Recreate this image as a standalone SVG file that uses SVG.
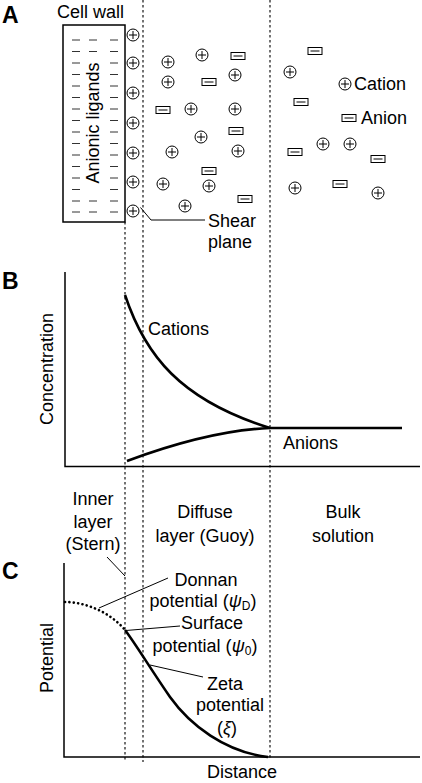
<svg xmlns="http://www.w3.org/2000/svg" xmlns:xlink="http://www.w3.org/1999/xlink" width="422" height="783" viewBox="0 0 422 783">
<style>
text{font-family:"Liberation Sans",Arial,sans-serif;font-size:18px;fill:#000}
.lbl{font-weight:bold;font-size:23px}
.mid{text-anchor:middle}
.ion{fill:none;stroke:#000;stroke-width:1}
.dash{stroke:#333;stroke-width:1}
.dot{fill:none;stroke:#000;stroke-width:1.1;stroke-dasharray:2.5 2.5}
.axis{fill:none;stroke:#000;stroke-width:1.5}
.curve{fill:none;stroke:#000;stroke-width:2.6}
.lead{fill:none;stroke:#000;stroke-width:1}
</style>
<defs>
<g id="cat"><circle r="6" class="ion"/><path d="M-4,0H4M0,-4V4" class="ion"/></g>
<g id="an"><rect x="-7" y="-3.5" width="14" height="7" class="ion"/><path d="M-4.5,0H4.5" class="ion"/></g>
</defs>
<rect width="422" height="783" fill="#fff"/>

<g id="guides">
<path class="dot" d="M125,222V762"/>
<path class="dot" d="M143,0V762"/>
<path class="dot" d="M270,0V760"/>
</g>

<g id="panel-A">
<text class="lbl" x="2" y="23">A</text>
<text x="57" y="18">Cell wall</text>
<g id="cell-wall">
<rect x="63" y="25" width="62" height="197" fill="none" stroke="#000" stroke-width="1.5"/>
<path class="dash" d="M72,40h8M72,51.5h8M72,63h8M72,74.5h8M72,86h8M72,97.5h8M72,109h8M72,120.5h8M72,132h8M72,143.5h8M72,155h8M72,166.5h8M72,178h8M72,189.5h8M72,201h8M72,212h8
M110,40h8M110,51.5h8M110,63h8M110,74.5h8M110,86h8M110,97.5h8M110,109h8M110,120.5h8M110,132h8M110,143.5h8M110,155h8M110,166.5h8M110,178h8M110,189.5h8M110,201h8M110,212h8
M89,40h8M89,51.5h8M89,201h8M89,212h8"/>
<text class="mid" transform="translate(99,123) rotate(-90)">Anionic ligands</text>
</g>
<g id="stern-cations">
<use xlink:href="#cat" x="133" y="35"/>
<use xlink:href="#cat" x="133" y="63"/>
<use xlink:href="#cat" x="133" y="93"/>
<use xlink:href="#cat" x="133" y="123"/>
<use xlink:href="#cat" x="133" y="153"/>
<use xlink:href="#cat" x="133" y="182"/>
<use xlink:href="#cat" x="133" y="211"/>
</g>
<g id="diffuse-ions">
<use xlink:href="#cat" x="168" y="62"/>
<use xlink:href="#cat" x="202" y="55"/>
<use xlink:href="#cat" x="235" y="75"/>
<use xlink:href="#cat" x="168" y="82"/>
<use xlink:href="#cat" x="191" y="109"/>
<use xlink:href="#cat" x="235" y="109"/>
<use xlink:href="#cat" x="201" y="137"/>
<use xlink:href="#cat" x="172" y="152"/>
<use xlink:href="#cat" x="238" y="151"/>
<use xlink:href="#cat" x="163" y="184"/>
<use xlink:href="#cat" x="209" y="186"/>
<use xlink:href="#cat" x="185" y="206"/>
<use xlink:href="#an" x="238" y="56"/>
<use xlink:href="#an" x="209" y="82"/>
<use xlink:href="#an" x="163" y="110"/>
<use xlink:href="#an" x="236" y="131"/>
<use xlink:href="#an" x="209" y="171"/>
<use xlink:href="#an" x="245" y="199"/>
</g>
<g id="bulk-ions">
<use xlink:href="#an" x="315" y="51"/>
<use xlink:href="#cat" x="290" y="72"/>
<use xlink:href="#an" x="301" y="102"/>
<use xlink:href="#cat" x="323" y="144"/>
<use xlink:href="#cat" x="350" y="144"/>
<use xlink:href="#an" x="295" y="152"/>
<use xlink:href="#an" x="378" y="159"/>
<use xlink:href="#cat" x="295" y="188"/>
<use xlink:href="#an" x="340" y="184"/>
<use xlink:href="#cat" x="378" y="193"/>
</g>
<g id="legend">
<use xlink:href="#cat" x="345" y="84"/>
<text x="354" y="90" font-size="19">Cation</text>
<use xlink:href="#an" x="349" y="118"/>
<text x="361" y="124" font-size="19">Anion</text>
</g>
<g id="shear-plane">
<text x="208" y="227">Shear</text>
<text x="208" y="248">plane</text>
</g>
</g>

<g id="panel-B">
<text class="lbl" x="2" y="289">B</text>
<path class="axis" d="M65,272V466.5H420"/>
<text class="mid" transform="translate(53,369) rotate(-90)">Concentration</text>
<path id="cations-curve" class="curve" d="M125,295C145,355 180,400 270,428H402"/>
<path id="anions-curve" class="curve" d="M127,461C170,445 220,430 270,428"/>
<text x="148" y="335">Cations</text>
<text x="283" y="449">Anions</text>
</g>

<g id="layer-labels">
<text class="mid" x="93" y="505">Inner</text>
<text class="mid" x="93" y="528">layer</text>
<text class="mid" x="93" y="550">(Stern)</text>
<text class="mid" x="205" y="518">Diffuse</text>
<text class="mid" x="205" y="542">layer (Guoy)</text>
<text class="mid" x="343" y="518">Bulk</text>
<text class="mid" x="343" y="542">solution</text>
</g>

<g id="panel-C">
<text class="lbl" x="2" y="579">C</text>
<path class="axis" d="M64,563V757H420"/>
<text class="mid" transform="translate(53,658) rotate(-90)">Potential</text>
<text class="mid" x="242" y="778">Distance</text>
<path id="donnan-curve" d="M65,602C85,602 110,612 125,630" fill="none" stroke="#000" stroke-width="2.6" stroke-linecap="round" stroke-dasharray="0.1 4.3"/>
<path id="potential-curve" class="curve" d="M125,630C135,643 150,668 170,697C190,725 225,752 268,757"/>
<text class="mid" x="206" y="586">Donnan</text>
<text class="mid" x="203" y="607">potential (<tspan font-style="italic">ψ</tspan><tspan font-size="12" dy="3">D</tspan><tspan dy="-3">)</tspan></text>
<text class="mid" x="212" y="629">Surface</text>
<text class="mid" x="205" y="652">potential (<tspan font-style="italic">ψ</tspan><tspan font-size="12" dy="3">0</tspan><tspan dy="-3">)</tspan></text>
<text class="mid" x="225" y="690">Zeta</text>
<text class="mid" x="230" y="711">potential</text>
<text class="mid" x="227" y="734">(<tspan font-style="italic">ξ</tspan>)</text>
</g>

<g id="connectors">
<path class="lead" d="M140.5,207.5L151,220H205"/>
<path class="lead" d="M107,557L125,576"/>
<path class="lead" d="M99,608L168,578"/>
<path class="lead" d="M126,630.5L180,626"/>
<path class="lead" d="M150,665L203,677"/>
</g>
</svg>
